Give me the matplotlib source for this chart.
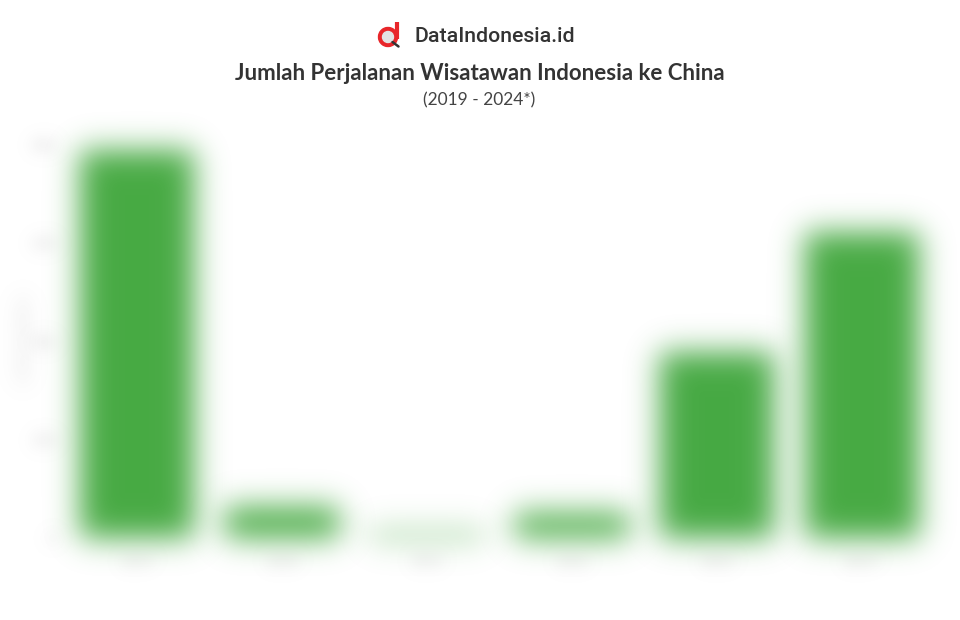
import numpy as np
import matplotlib
matplotlib.use("Agg")
import matplotlib.pyplot as plt
from matplotlib.patches import Circle, Wedge

years = ["2019", "2020", "2021", "2022", "2023", "2024*"]
visits = [790, 64, 12, 50, 379, 623]
y_ticks = [0, 200, 400, 600, 800]


def blur(sigma):
    radius = int(3 * sigma)
    kernel = np.exp(-0.5 * (np.arange(-radius, radius + 1) / sigma) ** 2)
    kernel /= kernel.sum()

    def apply(image, dpi):
        alpha = np.pad(image[..., 3], radius)
        alpha = np.apply_along_axis(np.convolve, 0, alpha, kernel, mode="same")
        alpha = np.apply_along_axis(np.convolve, 1, alpha, kernel, mode="same")
        mask = image[..., 3] > 0.5
        rgb = image[mask][:, :3].mean(axis=0) if mask.any() else image[..., :3].reshape(-1, 3).max(axis=0)
        out = np.zeros(alpha.shape + (4,))
        out[..., :3] = rgb
        out[..., 3] = alpha
        return out, -radius, -radius

    return apply


plt.rcParams["font.family"] = ["Lato", "DejaVu Sans"]
fig = plt.figure(figsize=(9.6, 6.2), dpi=100)
ax = fig.add_axes([64.5 / 960, 1 - 538 / 620, 870 / 960, 413 / 620])
x = np.arange(len(years))
bars = ax.bar(x, visits, width=0.79, color="#47AA43", linewidth=0)
for b in bars:
    b.set_clip_on(False)
    b.set_agg_filter(blur(15))
ax.set_xlim(-0.5, 5.5)
ax.set_ylim(0, 841)
ax.set_xticks(x, years, color="#C4C4C4", fontsize=10)
ax.set_yticks(y_ticks, [str(v) for v in y_ticks], color="#C4C4C4", fontsize=10)
ax.tick_params(length=0, pad=6)
ax.tick_params(axis="x", pad=12)
for lab in ax.get_xticklabels() + ax.get_yticklabels():
    lab.set_agg_filter(blur(8))
for s in ax.spines.values():
    s.set_visible(False)
ylab = fig.text(24 / 960, 1 - 340 / 620, "Jumlah Perjalanan", rotation=90, ha="center", va="center",
                fontsize=8, color="#BBBBBB")
ylab.set_agg_filter(blur(10))

fig.text(0.5, 1 - 74 / 620, "Jumlah Perjalanan Wisatawan Indonesia ke China", ha="center", va="center",
         fontsize=16, fontweight="bold", color="#333333")
fig.text(0.5 - 0.001, 1 - 100 / 620, "(2019 - 2024*)", ha="center", va="center", fontsize=12.5, color="#444444")
fig.text(415 / 960, 1 - 36 / 620, "DataIndonesia.id", ha="left", va="center", fontsize=15.3,
         family="Roboto", fontweight="medium", color="#333333")

logo = fig.add_axes([376 / 960, 1 - 49 / 620, 28 / 960, 28 / 620])
logo.axis("off")
logo.set_xlim(0, 28)
logo.set_ylim(0, 28)
logo.add_patch(Wedge((12, 12), 9.5, 0, 360, width=3.5, color="#E8262A"))
logo.add_patch(Circle((12, 12), 5.5, color="#E3E3E3"))
logo.plot([21, 21], [10, 27], color="#E8262A", lw=3, solid_capstyle="butt")
logo.plot([16.5, 22.5], [7, 2.5], color="#333333", lw=1.8, solid_capstyle="round")
fig.savefig("out.png", dpi=100)
